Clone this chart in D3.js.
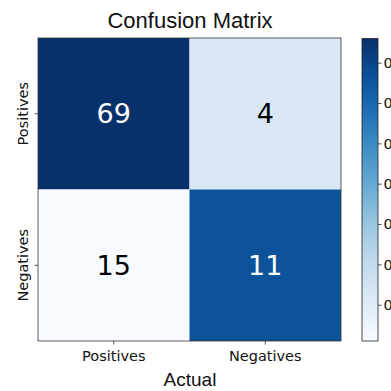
<!DOCTYPE html>
<html>
<head>
<meta charset="utf-8">
<script src="https://cdn.jsdelivr.net/npm/d3@7"></script>
<style>
  body { margin: 0; background: #fff; }
  svg { display: block; }
</style>
</head>
<body>
<svg id="fig" width="391" height="391"></svg>
<script>
// data
const actualLabels = ['Positives', 'Negatives'];
const predictedLabels = ['Positives', 'Negatives'];
// counts shown in the cells, rows = predicted, cols = actual
const counts = [
    [69, 4],
    [15, 11]
];
// colour value for each cell (estimated from the shading / colorbar)
const shares = [
    [0.86, 0.22],
    [0.11, 0.76]
];
const cbTicks = [0.2, 0.3, 0.4, 0.5, 0.6, 0.7, 0.8];

const svg = d3.select('#fig');
const margin = { top: 38, left: 38 };
const size = 303;

const cells = [];
counts.forEach((row, i) => row.forEach((v, j) => cells.push({
    row: predictedLabels[i], col: actualLabels[j], count: v, share: shares[i][j]
})));

const allShares = shares.flat();
const color = d3.scaleSequential(d3.interpolateBlues).domain(d3.extent(allShares));

const xScale = d3.scaleBand().domain(actualLabels).range([0, size]);
const yScale = d3.scaleBand().domain(predictedLabels).range([0, size]);

const g = svg.append('g').attr('transform', `translate(${margin.left}, ${margin.top})`);

g.selectAll('rect.cell').data(cells).join('rect')
    .attr('class', 'cell')
    .attr('x', d => xScale(d.col))
    .attr('y', d => yScale(d.row))
    .attr('width', xScale.bandwidth())
    .attr('height', yScale.bandwidth())
    .attr('fill', d => color(d.share));

g.selectAll('text.val').data(cells).join('text')
    .attr('class', 'val')
    .attr('x', d => xScale(d.col) + xScale.bandwidth() / 2)
    .attr('y', d => yScale(d.row) + yScale.bandwidth() / 2)
    .attr('dy', '0.36em')
    .attr('text-anchor', 'middle')
    .attr('font-family', 'DejaVu Sans')
    .attr('font-size', 27)
    .attr('fill', d => (d.share - color.domain()[0]) / (color.domain()[1] - color.domain()[0]) > 0.5 ? '#fff' : '#000')
    .text(d => d.count);

g.append('rect')
    .attr('width', size).attr('height', size)
    .attr('fill', 'none').attr('stroke', '#333').attr('stroke-width', 0.8);

const xAxis = g.append('g').attr('transform', `translate(0, ${size})`)
    .call(d3.axisBottom(xScale).tickSize(3.5).tickPadding(3));
const yAxis = g.append('g')
    .call(d3.axisLeft(yScale).tickSize(3.5).tickPadding(3));
[xAxis, yAxis].forEach(a => {
    a.select('.domain').remove();
    a.selectAll('.tick line').attr('stroke', '#333').attr('stroke-width', 0.8);
    a.selectAll('.tick text').attr('font-family', 'DejaVu Sans').attr('font-size', 14.5).attr('fill', '#111');
});
xAxis.selectAll('.tick text').attr('dy', '0.9em');
yAxis.selectAll('.tick text')
    .attr('text-anchor', 'middle')
    .attr('transform', 'rotate(-90) translate(0, -10)')
    .attr('x', 0).attr('dy', 0);

// title and axis label
svg.append('text')
    .attr('x', 190).attr('y', 28)
    .attr('text-anchor', 'middle')
    .attr('font-family', 'Liberation Sans, Arial, sans-serif')
    .attr('font-size', 22)
    .attr('fill', '#111')
    .text('Confusion Matrix');
svg.append('text')
    .attr('x', 190).attr('y', 386)
    .attr('text-anchor', 'middle')
    .attr('font-family', 'Liberation Sans, Arial, sans-serif')
    .attr('font-size', 19)
    .attr('fill', '#111')
    .text('Actual');

// colorbar (labels run past the right edge, as in the reference)
const cbX = 362, cbW = 16, cbTop = 38.5, cbH = 302.5;
const cbScale = d3.scaleLinear().domain(color.domain()).range([cbH, 0]);
const defs = svg.append('defs');
const grad = defs.append('linearGradient').attr('id', 'cbgrad')
    .attr('x1', 0).attr('y1', 1).attr('x2', 0).attr('y2', 0);
d3.range(0, 1.0001, 0.05).forEach(t => {
    grad.append('stop').attr('offset', t).attr('stop-color', d3.interpolateBlues(t));
});
const cb = svg.append('g').attr('transform', `translate(${cbX}, ${cbTop})`);
cb.append('rect').attr('width', cbW).attr('height', cbH)
    .attr('fill', 'url(#cbgrad)').attr('stroke', '#222').attr('stroke-width', 0.8);
const cbAxis = cb.append('g').attr('transform', `translate(${cbW}, 0)`)
    .call(d3.axisRight(cbScale).tickValues(cbTicks).tickFormat(d3.format('.1f')).tickSize(3.5).tickPadding(2));
cbAxis.select('.domain').remove();
cbAxis.selectAll('.tick line').attr('stroke', '#222').attr('stroke-width', 0.8);
cbAxis.selectAll('.tick text').attr('font-family', 'DejaVu Sans').attr('font-size', 14.5).attr('fill', '#111');
</script>
</body>
</html>
